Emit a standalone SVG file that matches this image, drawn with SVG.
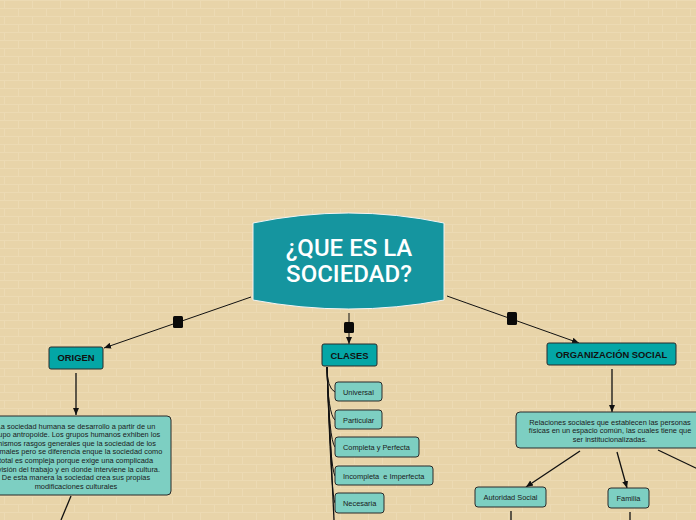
<svg xmlns="http://www.w3.org/2000/svg" width="696" height="520" viewBox="0 0 696 520">
<defs>
<pattern id="brick" width="28" height="16" patternUnits="userSpaceOnUse">
<rect width="28" height="16" fill="#e8d4a9"/>
<path d="M0 0.5H28M0 8.5H28M4.5 0V8M18.5 8V16" stroke="#ecdab3" stroke-width="1" fill="none"/>
</pattern>
<marker id="arr" markerWidth="8" markerHeight="8" refX="7" refY="4" orient="auto" markerUnits="userSpaceOnUse">
<path d="M0 1L7 4L0 7Z" fill="#111"/>
</marker>
<style>
.c{stroke:#111;stroke-width:1;fill:none}
.c2{stroke:#111;stroke-width:1.3;fill:none}
.sq{fill:#0a0a0a}
.dk{fill:#04a6a6;stroke:#2a2a2a;stroke-width:1}
.lt{fill:#7dcfc2;stroke:#2a2a2a;stroke-width:1}
.hb{font-family:"Liberation Sans",Arial,sans-serif;font-weight:bold;font-size:9.4px;fill:#111;text-anchor:middle}
.t{font-family:"Liberation Sans",Arial,sans-serif;font-size:7.4px;fill:#1a1a1a}
.tm{text-anchor:middle}
</style>
</defs>
<rect width="696" height="520" fill="url(#brick)"/>
<g id="connectors">
<line class="c" x1="251" y1="297" x2="104" y2="348" marker-end="url(#arr)"/>
<rect class="sq" x="173" y="316" width="10" height="12" rx="1.5"/>
<line class="c" x1="349" y1="313" x2="349" y2="344" marker-end="url(#arr)"/>
<rect class="sq" x="344" y="322" width="10" height="11" rx="1.5"/>
<line class="c" x1="447" y1="296" x2="579" y2="343" marker-end="url(#arr)"/>
<rect class="sq" x="507" y="312" width="10" height="13" rx="1.5"/>
<line class="c2" x1="76" y1="373" x2="76" y2="415" marker-end="url(#arr)"/>
<line class="c2" x1="71" y1="496" x2="61" y2="520"/>
<line class="c2" x1="612" y1="369" x2="612" y2="412" marker-end="url(#arr)"/>
<line class="c2" x1="580" y1="451" x2="526" y2="487" marker-end="url(#arr)"/>
<line class="c2" x1="617" y1="452" x2="627" y2="488" marker-end="url(#arr)"/>
<line class="c2" x1="658" y1="450" x2="700" y2="470"/>
<line class="c2" x1="511" y1="511" x2="511" y2="520"/>
<line class="c2" x1="630" y1="512" x2="630" y2="520"/>
<path class="c" d="M327 367Q327 388 335 392"/>
<path class="c" d="M327 367Q328 414 335 420"/>
<path class="c" d="M327 367Q329 440 335 447"/>
<path class="c" d="M327 367Q330 468 335 476"/>
<path class="c" d="M327 367Q331 496 335 503"/>
<path class="c2" d="M327 367Q332 470 334 520"/>
</g>
<g id="central">
<path d="M253 223Q349 203 444 223V300Q349 318 253 300Z" fill="#15959f" stroke="#f4f4f4" stroke-width="1"/>
<text x="349" y="256" font-family="Roboto,'Noto Sans',sans-serif" font-size="24" font-weight="500" fill="#fff" text-anchor="middle">¿QUE ES LA</text>
<text x="349" y="282" font-family="Roboto,'Noto Sans',sans-serif" font-size="24" font-weight="500" fill="#fff" text-anchor="middle">SOCIEDAD?</text>
</g>
<g id="origen">
<rect class="dk" x="49" y="347" width="54" height="22" rx="2"/>
<text class="hb" x="76" y="361">ORIGEN</text>
</g>
<g id="origen-texto">
<rect class="lt" x="-20" y="416" width="191" height="79" rx="4"/>
<text class="t tm" x="76" y="428.5">La sociedad humana se desarrollo a partir de un</text>
<text class="t tm" x="76" y="437">grupo antropoide. Los grupos humanos exhiben los</text>
<text class="t tm" x="76" y="445.5">mismos rasgos generales que la sociedad de los</text>
<text class="t tm" x="76" y="454">animales pero se diferencia enque la sociedad como</text>
<text class="t tm" x="76" y="463">total es compleja porque exige una complicada</text>
<text class="t tm" x="76" y="471.5">división del trabajo y en donde interviene la cultura.</text>
<text class="t tm" x="76" y="480">De esta manera la sociedad crea sus propias</text>
<text class="t tm" x="76" y="488.5">modificaciones culturales</text>
</g>
<g id="clases">
<rect class="dk" x="322" y="344" width="55" height="22" rx="2"/>
<text class="hb" x="349.5" y="358.5">CLASES</text>
</g>
<g id="universal">
<rect class="lt" x="335" y="382" width="47" height="19" rx="3"/>
<text class="t" x="343" y="394.5">Universal</text>
</g>
<g id="particular">
<rect class="lt" x="335" y="410" width="47" height="19" rx="3"/>
<text class="t" x="343" y="422.5">Particular</text>
</g>
<g id="completa">
<rect class="lt" x="335" y="437" width="84" height="20" rx="3"/>
<text class="t" x="343" y="450">Completa y Perfecta</text>
</g>
<g id="incompleta">
<rect class="lt" x="335" y="466" width="98" height="19" rx="3"/>
<text class="t" x="343" y="478.5" xml:space="preserve">Incompleta  e Imperfecta</text>
</g>
<g id="necesaria">
<rect class="lt" x="335" y="493" width="49" height="20" rx="3"/>
<text class="t" x="343" y="506">Necesaria</text>
</g>
<g id="organizacion">
<rect class="dk" x="547" y="343" width="129" height="22" rx="2"/>
<text class="hb" x="611.5" y="357.5">ORGANIZACIÓN SOCIAL</text>
</g>
<g id="relaciones">
<rect class="lt" x="516" y="412" width="190" height="36" rx="4"/>
<text class="t tm" x="610" y="424.5">Relaciones sociales que establecen las personas</text>
<text class="t tm" x="610" y="433">físicas en un espacio común, las cuales tiene que</text>
<text class="t tm" x="610" y="441.5">ser institucionalizadas.</text>
</g>
<g id="autoridad">
<rect class="lt" x="475" y="487" width="71" height="20" rx="3"/>
<text class="t tm" x="510.5" y="500">Autoridad Social</text>
</g>
<g id="familia">
<rect class="lt" x="608" y="488" width="41" height="20" rx="3"/>
<text class="t tm" x="628.5" y="501">Familia</text>
</g>
</svg>
